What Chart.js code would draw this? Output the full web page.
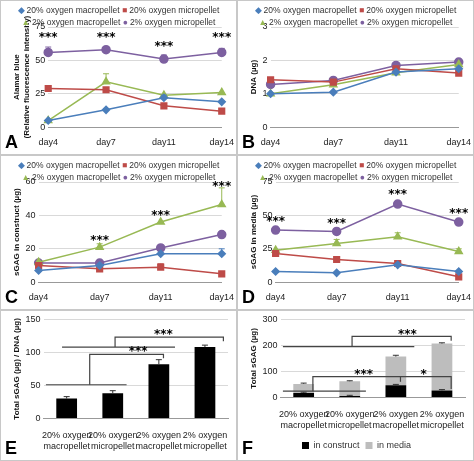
<!DOCTYPE html>
<html><head><meta charset="utf-8">
<script src="https://cdn.jsdelivr.net/npm/chart.js@4"></script>
<style>
body{margin:0;background:#fff;font-family:"Liberation Sans",Arial,sans-serif}
.p{position:absolute;border:1px solid #c8c8c8;box-sizing:border-box;background:#fff}
.p canvas{position:absolute;left:0;top:0}
.l{position:absolute;left:4px;bottom:1px;font:bold 18px "Liberation Sans",Arial;color:#000}
.lg{position:absolute;left:0;right:0;top:3px;font-size:8.5px;color:#333;line-height:12px;text-align:center;white-space:nowrap}
.lg b{font-weight:normal;margin-right:2px}
</style></head><body>
<script>
const days = ['day4', 'day7', 'day11', 'day14'];
const seriesNames = ['20% oxygen macropellet', '20% oxygen micropellet', '2% oxygen macropellet', '2% oxygen micropellet'];
const colors = ['#4a7ebb', '#be4b48', '#98b954', '#7d60a0'];
const markers = ['rectRot', 'rect', 'triangle', 'circle'];
const glyphs = ['◆', '■', '▲', '●'];

// A: Alamar blue
const aValues = [[5, 13, 22, 19], [29, 28, 16, 12], [5, 34, 24, 26], [56, 58, 51, 56]];
const aErrors = [[0, 0, 2, 0], [0, 0, 0, 0], [0, 6, 0, 0], [4, 0, 3, 3]];
// B: DNA
const bValues = [[1.0, 1.05, 1.65, 1.75], [1.42, 1.35, 1.75, 1.62], [1.0, 1.27, 1.63, 1.88], [1.28, 1.4, 1.85, 1.95]];
// C: sGAG in construct
const cValues = [[7, 10, 17, 17], [10, 8, 9, 5], [12, 21, 36, 46.5], [11.5, 11.5, 20.5, 28.5]];
const cErrors = [[0, 0, 0, 3], [0, 0, 2, 0], [0, 2, 0, 10], [0, 0, 0, 0]];
// D: sGAG in media
const dValues = [[8, 7, 13, 8], [21.5, 17, 14, 4], [24, 29, 34, 23], [39, 38, 58.5, 45]];
const dErrors = [[0, 0, 0, 0], [0, 0, 0, 0], [0, 3, 3, 2], [0, 0, 0, 0]];
// E, F: bar panels
const groups = [['20% oxygen', 'macropellet'], ['20% oxygen', 'micropellet'], ['2% oxygen', 'macropellet'], ['2% oxygen', 'micropellet']];
const eValues = [30, 38, 82, 108];
const eErrors = [3, 4, 7, 3];
const fConstruct = [17, 5, 47, 27];
const fMedia = [35, 57, 110, 180];
const fErrors = [3, 2, 5, 3];

Chart.defaults.font.family = '"Liberation Sans", Arial, sans-serif';
Chart.defaults.color = '#333';
Chart.defaults.animation = false;

function xPix(x, v) {
  const i = Math.floor(v), f = v - i;
  const p0 = x.getPixelForValue(i), p1 = x.getPixelForValue(i + 1);
  return p0 + (p1 - p0) * f;
}

// whiskers + star labels + brackets, all in data units
const extras = {
  id: 'extras',
  afterDatasetsDraw(chart, args, o) {
    const c = chart.ctx, x = chart.scales.x, y = chart.scales.y;
    c.save();
    c.lineWidth = 1;
    (o.errors || []).forEach(e => {
      const px = xPix(x, e[0]), y0 = y.getPixelForValue(e[1]), y1 = y.getPixelForValue(e[1] + e[2]);
      c.strokeStyle = e[3] || '#333';
      c.beginPath(); c.moveTo(px, y0); c.lineTo(px, y1); c.moveTo(px - 3, y1); c.lineTo(px + 3, y1); c.stroke();
    });
    c.strokeStyle = '#444'; c.lineWidth = 1.2;
    (o.lines || []).forEach(pts => {
      c.beginPath();
      pts.forEach((p, k) => { const px = xPix(x, p[0]), py = y.getPixelForValue(p[1]); k ? c.lineTo(px, py) : c.moveTo(px, py); });
      c.stroke();
    });
    c.fillStyle = '#000'; c.font = 'bold 12px "DejaVu Sans"'; c.textAlign = 'center'; c.textBaseline = 'middle';
    (o.stars || []).forEach(s => c.fillText(s[2], xPix(x, s[0]), y.getPixelForValue(s[1])));
    c.restore();
  }
};

function panel(l, t, w, h, letter, legend) {
  const d = document.createElement('div');
  d.className = 'p';
  Object.assign(d.style, {left: l + 'px', top: t + 'px', width: w + 'px', height: h + 'px'});
  const cv = document.createElement('canvas');
  cv.width = w - 2; cv.height = h - 2;
  cv.style.width = (w - 2) + 'px'; cv.style.height = (h - 2) + 'px';
  d.appendChild(cv);
  if (legend) {
    const g = document.createElement('div'); g.className = 'lg';
    g.innerHTML = seriesNames.map((n, i) =>
      `<span><b style="color:${colors[i]}">${glyphs[i]}</b>${n}</span>` + (i === 1 ? '<br>' : i === 0 || i === 2 ? ' ' : '')).join('');
    d.appendChild(g);
  }
  const s = document.createElement('div'); s.className = 'l'; s.textContent = letter; d.appendChild(s);
  document.body.appendChild(d);
  return cv;
}

function scales(max, step, title, pad) {
  return {
    x: {grid: {display: false}, border: {color: '#999'},
        ticks: {font: {size: 9}, color: '#222', padding: pad || 2, maxRotation: 0, minRotation: 0, autoSkip: false}},
    y: {min: 0, max: max, ticks: {stepSize: step, font: {size: 9}, color: '#222'},
        grid: {color: '#d9d9d9', drawTicks: false}, border: {display: false},
        title: {display: true, text: title, font: {size: 8, weight: 'bold'}, color: '#111', padding: 1}}
  };
}

function lineChart(cv, values, max, step, title, ex) {
  new Chart(cv, {
    type: 'line',
    data: {
      labels: days,
      datasets: values.map((v, i) => ({
        label: seriesNames[i], data: v, borderColor: colors[i], backgroundColor: colors[i],
        pointStyle: markers[i], pointRadius: i === 0 ? 3.5 : 4, borderWidth: 1.5, tension: 0
      }))
    },
    options: {
      responsive: false, devicePixelRatio: 1,
      layout: {padding: {left: 10, right: 8, top: 26, bottom: 4}},
      plugins: {legend: {display: false}, tooltip: {enabled: false}, extras: ex || {}},
      scales: scales(max, step, title)
    },
    plugins: [extras]
  });
}

function errList(vals, errs) {
  const out = [];
  errs.forEach((row, s) => row.forEach((e, i) => { if (e) out.push([i, vals[s][i], e, colors[s]]); }));
  return out;
}
const st = '***';

lineChart(panel(0, 0, 237, 155, 'A', true), aValues, 75, 25, ['Alamar blue', '(Relative fluorescence intensity)'],
  {errors: errList(aValues, aErrors), stars: [[0, 67, st], [1, 67, st], [2, 60, st], [3, 67, st]]});
lineChart(panel(237, 0, 237, 155, 'B', true), bValues, 3, 1, 'DNA (µg)', {});
lineChart(panel(0, 155, 237, 155, 'C', true), cValues, 60, 20, 'sGAG in construct (µg)',
  {errors: errList(cValues, cErrors), stars: [[1, 25, st], [2, 40, st], [3, 57, st]]});
lineChart(panel(237, 155, 237, 155, 'D', true), dValues, 75, 25, 'sGAG in media (µg)',
  {errors: errList(dValues, dErrors), stars: [[0, 45, st], [1, 44, st], [2, 65, st], [3, 51, st]]});

const barOpts = (max, step, title, ex, legend) => ({
  responsive: false, devicePixelRatio: 1,
  layout: {padding: {left: 10, right: 8, top: 6, bottom: legend ? 0 : 4}},
  plugins: {
    legend: {display: legend, position: 'bottom',
      labels: {boxWidth: 7, boxHeight: 7, padding: 6, font: {size: 9}, color: '#333'}},
    tooltip: {enabled: false}, extras: ex
  },
  scales: scales(max, step, title, 4)
});

new Chart(panel(0, 310, 237, 151, 'E'), {
  type: 'bar',
  data: {labels: groups, datasets: [{data: eValues, backgroundColor: '#000', barPercentage: 0.45, categoryPercentage: 1}]},
  options: barOpts(150, 50, 'Total sGAG (µg) / DNA (µg)', {
    errors: eValues.map((v, i) => [i, v, eErrors[i]]),
    lines: [[[-0.45, 51], [1.3, 51]], [[0.5, 51], [0.5, 97], [2.1, 97], [2.1, 91]],
            [[-0.1, 108], [2.35, 108]], [[1.05, 108], [1.05, 123], [3.4, 123], [3.4, 117]]],
    stars: [[1.55, 101, st], [2.1, 127, st]]
  }, false),
  plugins: [extras]
});

const fTop = fConstruct.map((v, i) => v + fMedia[i]);
new Chart(panel(237, 310, 237, 151, 'F'), {
  type: 'bar',
  data: {labels: groups, datasets: [
    {label: 'in construct', data: fConstruct, backgroundColor: '#000', barPercentage: 0.45, categoryPercentage: 1},
    {label: 'in media', data: fMedia, backgroundColor: '#bdbdbd', barPercentage: 0.45, categoryPercentage: 1}
  ]},
  options: (() => {
    const o = barOpts(300, 100, 'Total sGAG (µg)', {
      errors: fTop.map((v, i) => [i, v, fErrors[i]]).concat(fConstruct.map((v, i) => [i, v, 3])),
      lines: [[[-0.45, 24], [1.35, 24]], [[0.2, 24], [0.2, 80], [3.2, 80], [3.2, 32]], [[2.1, 80], [2.1, 60]],
              [[-0.45, 195], [2.4, 195]], [[1.05, 195], [1.05, 235], [3.2, 235], [3.2, 218]]],
      stars: [[1.3, 85, st], [2.6, 85, '*'], [2.25, 240, st]]
    }, true);
    o.scales.x.stacked = true; o.scales.y.stacked = true;
    return o;
  })(),
  plugins: [extras]
});
</script>
</body></html>
